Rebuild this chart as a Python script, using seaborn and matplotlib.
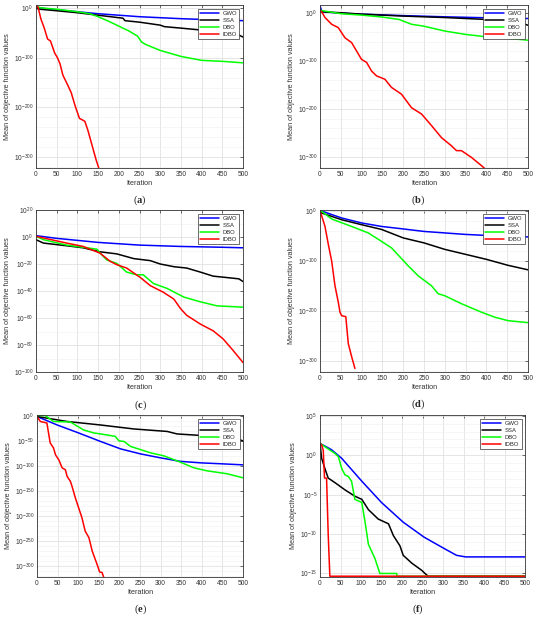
import matplotlib
matplotlib.use("Agg")
import matplotlib.pyplot as plt
from matplotlib.lines import Line2D
from matplotlib.ticker import FixedLocator, NullFormatter, LogFormatterSciNotation
import seaborn as sns
import numpy as np
import pandas as pd


ALGOS = ["GWO", "SSA", "DBO", "IDBO"]
COLORS = {"GWO": "#0000ff", "SSA": "#000000", "DBO": "#00ff00", "IDBO": "#ff0000"}

# (iteration, log10 of mean objective value)
A_GWO = [(0, 5), (5, 1), (25, -1), (50, -3), (100, -7), (150, -11), (200, -14), (250, -17),
         (300, -19), (350, -21), (400, -22.5), (450, -23.5), (500, -25)]
A_SSA = [(0, 0), (10, -2), (50, -5), (100, -9), (150, -14), (200, -19), (210, -20), (215, -25),
         (250, -28), (300, -34), (310, -37), (350, -40), (400, -44), (450, -49), (490, -54), (500, -58)]
A_DBO = [(0, 5), (10, 1), (50, -2), (100, -7), (130, -11), (150, -17), (175, -26), (200, -36),
         (225, -46), (245, -56), (255, -68), (265, -73), (300, -85), (350, -97), (400, -105),
         (450, -107), (500, -110)]
A_IDBO = [(0, 5), (5, 2), (12, -22), (20, -40), (28, -62), (35, -66), (45, -90), (52, -100),
          (58, -112), (65, -135), (75, -152), (85, -170), (95, -198), (105, -222), (112, -225),
          (118, -228), (125, -245), (135, -275), (145, -305), (152, -323)]

B_GWO = [(0, 14), (5, 2), (50, -1), (100, -3), (200, -6), (300, -8.5), (400, -10.5), (500, -12)]
B_SSA = [(0, 2), (50, 0), (100, -3), (200, -7), (300, -10), (400, -14), (450, -18), (480, -20),
         (500, -26)]
B_DBO = [(0, 5), (50, -2), (100, -5), (150, -9), (190, -14), (220, -24), (250, -28), (300, -38),
         (350, -45), (400, -50), (450, -53), (500, -57)]
B_IDBO = [(0, 5), (4, 2), (12, -10), (28, -24), (44, -31), (60, -52), (76, -62), (100, -97),
          (112, -103), (124, -121), (136, -131), (156, -138), (172, -155), (196, -169),
          (220, -197), (244, -210), (268, -234), (292, -259), (316, -276), (328, -286),
          (340, -286), (364, -300), (388, -317), (396, -323)]

C_GWO = [(0, 1), (50, -1), (100, -2.5), (150, -4), (200, -5), (250, -6), (300, -6.5), (350, -7),
         (400, -7.3), (450, -7.6), (500, -8)]
C_SSA = [(0, -2), (18, -4.5), (74, -6.5), (114, -8), (155, -11), (195, -12.5), (236, -16),
         (276, -17.5), (300, -20), (333, -22), (364, -23), (397, -26), (428, -29), (460, -30),
         (490, -31), (500, -33)]
C_DBO = [(0, 0.5), (18, -2), (74, -6), (147, -9), (155, -12), (171, -17), (195, -19.5),
         (219, -26), (243, -28), (259, -28), (284, -34.5), (316, -38), (357, -44.5), (397, -48),
         (437, -51), (500, -52)]
C_IDBO = [(0, 0.5), (74, -4.5), (114, -7), (155, -12), (179, -18), (195, -20.5), (219, -23),
          (252, -30), (276, -36), (308, -41), (333, -46), (349, -53), (364, -58), (397, -64.5),
          (428, -69.5), (452, -75.5), (476, -84), (500, -93)]

D_GWO = [(0, 2), (52, -13), (100, -23), (148, -30), (200, -35), (250, -40), (300, -43),
         (350, -46), (400, -48), (450, -50), (500, -51)]
D_SSA = [(0, -2), (52, -16.5), (100, -26.5), (148, -36), (200, -53), (250, -63), (300, -76),
         (350, -86), (400, -96), (452, -108), (500, -117)]
D_DBO = [(0, 3), (28, -15), (76, -30), (116, -43), (148, -60), (172, -73), (212, -109),
         (236, -129), (268, -149), (284, -165), (300, -169), (340, -185), (388, -202),
         (420, -212), (452, -219), (500, -223)]
D_IDBO = [(0, 0), (4, -8.6), (12, -30), (20, -66), (28, -99), (36, -149), (44, -182), (48, -202),
          (52, -209), (62, -211), (68, -265), (76, -291), (84, -315)]

E_GWO = [(0, 0), (49, -17), (101, -33), (154, -50), (203, -65), (251, -75), (300, -83),
         (348, -90), (397, -93), (450, -95), (500, -97)]
E_SSA = [(0, 0), (73, -10), (154, -17), (235, -25), (316, -30), (340, -35), (397, -38),
         (462, -38), (500, -49)]
E_DBO = [(0, 2), (20, 2), (40, -10), (81, -11), (113, -27), (138, -33), (170, -37), (190, -40),
         (199, -49), (211, -50), (227, -60), (276, -73), (308, -79), (340, -89), (381, -103),
         (413, -109), (462, -115), (500, -123)]
E_IDBO = [(0, 0), (8, -10), (24, -13), (32, -53), (40, -63), (45, -77), (53, -87), (61, -103),
          (69, -107), (73, -120), (81, -130), (85, -140), (93, -163), (101, -183), (109, -203),
          (117, -230), (126, -243), (134, -270), (146, -297), (152, -312), (158, -313),
          (162, -323)]

F_GWO = [(0, 1.5), (28, 0.7), (53, -0.4), (102, -3.3), (150, -6), (203, -8.5), (254, -10.4),
         (305, -11.9), (333, -12.7), (355, -12.9), (500, -12.9)]
F_SSA = [(0, 1.5), (4, -0.4), (12, -1.7), (20, -2.9), (37, -3.5), (61, -4.4), (85, -5.2),
         (102, -5.6), (118, -6.9), (142, -8.1), (167, -8.7), (179, -10.2), (195, -11.5),
         (203, -12.7), (224, -13.7), (248, -14.6), (256, -15), (264, -15.35), (500, -15.35)]
F_DBO = [(0, 1.5), (37, 0.2), (45, -0.2), (53, -1.7), (61, -2.5), (69, -2.7), (77, -3.3),
         (85, -5.6), (102, -6), (110, -8.5), (118, -11.3), (134, -13.1), (146, -15), (187, -15),
         (188, -15.35), (500, -15.35)]
F_IDBO = [(0, 1.5), (4, 1.3), (8, 0.6), (11, -2.9), (16, -2.9), (20, -10), (24, -15.35),
          (500, -15.35)]

PANEL_LABELS = ["a", "b", "c", "d", "e", "f"]
PANEL_SERIES = [
    [A_GWO, A_SSA, A_DBO, A_IDBO],
    [B_GWO, B_SSA, B_DBO, B_IDBO],
    [C_GWO, C_SSA, C_DBO, C_IDBO],
    [D_GWO, D_SSA, D_DBO, D_IDBO],
    [E_GWO, E_SSA, E_DBO, E_IDBO],
    [F_GWO, F_SSA, F_DBO, F_IDBO],
]
# y range and tick exponents for each panel
Y_LIMITS = [(-322, 6.6), (-322, 16), (-100, 20), (-322, 3), (-322, 3), (-15.45, 5.1)]
Y_MAJOR = [
    [0, -100, -200, -300],
    [0, -100, -200, -300],
    [20, 0, -20, -40, -60, -80, -100],
    [0, -100, -200, -300],
    [0, -50, -100, -150, -200, -250, -300],
    [5, 0, -5, -10, -15],
]
Y_MINOR_STEP = [20, 20, 10, 20, 10, 1]
X_TICKS = list(range(0, 501, 50))

# axes boxes in pixels (left, top, right, bottom) and caption centres
FIG_W, FIG_H = 550, 617
BOXES = [(36, 5, 243, 168), (320, 5, 528, 168), (36, 210, 243, 372),
         (320, 210, 528, 372), (37, 415, 243, 577), (320, 415, 525, 577)]
CAPTIONS = [(140, 200), (418, 200), (140, 405), (418, 404), (140, 609), (418, 609)]

FONT_TICKS = 4.8
FONT_AXES = 5.2
FONT_LEGEND = 4.2


def make_frame(series):
    rows = []
    for name, pts in zip(ALGOS, series):
        for it, lg in pts:
            rows.append({"Iteration": it, "Value": 10.0 ** lg, "Algorithm": name})
    return pd.DataFrame(rows)


sns.set_theme(style="white")
plt.rcParams["font.family"] = ["Liberation Sans", "DejaVu Sans"]
plt.rcParams["mathtext.default"] = "regular"
plt.rcParams["mathtext.fontset"] = "custom"
plt.rcParams["mathtext.bf"] = "Liberation Serif:bold"

fig = plt.figure(figsize=(FIG_W / 100, FIG_H / 100), dpi=100)

for i, label in enumerate(PANEL_LABELS):
    l, t, r, b = BOXES[i]
    ax = fig.add_axes([l / FIG_W, 1 - b / FIG_H, (r - l) / FIG_W, (b - t) / FIG_H])
    df = make_frame(PANEL_SERIES[i])
    sns.lineplot(data=df, x="Iteration", y="Value", hue="Algorithm", hue_order=ALGOS,
                 palette=COLORS, estimator=None, sort=False, linewidth=1.1,
                 legend=False, ax=ax)
    ax.set_yscale("log")
    lo, hi = Y_LIMITS[i]
    ax.set_ylim(10.0 ** lo, 10.0 ** hi)
    ax.set_xlim(0, 500)
    ax.set_xticks(X_TICKS)
    ax.yaxis.set_major_locator(FixedLocator([10.0 ** m for m in Y_MAJOR[i]]))
    ax.yaxis.set_major_formatter(LogFormatterSciNotation())
    step = Y_MINOR_STEP[i]
    minors = np.arange(np.ceil(lo / step) * step, hi, step)
    ax.yaxis.set_minor_locator(FixedLocator(10.0 ** minors))
    ax.yaxis.set_minor_formatter(NullFormatter())

    ax.grid(True, which="major", color="#dcdcdc", linewidth=0.5)
    ax.grid(True, which="minor", axis="y", color="#f0f0f0", linewidth=0.4)
    ax.set_axisbelow(True)
    for sp in ax.spines.values():
        sp.set_color("#333333")
        sp.set_linewidth(0.6)
    ax.tick_params(axis="both", which="major", direction="in", length=2, width=0.5,
                   labelsize=FONT_TICKS, pad=2, top=True, right=True, colors="#333333")
    ax.tick_params(axis="y", which="minor", length=0)

    ax.set_xlabel("Iteration", fontsize=FONT_AXES, labelpad=1.5, color="#333333")
    ax.set_ylabel("Mean of objective function values", fontsize=FONT_AXES, labelpad=2,
                  color="#333333")

    handles = [Line2D([], [], color=COLORS[a], linewidth=1.1) for a in ALGOS]
    leg = ax.legend(handles, ALGOS, loc="upper right", fontsize=FONT_LEGEND,
                    handlelength=3.3, handletextpad=0.6, borderpad=0.35,
                    labelspacing=0.35, fancybox=False, framealpha=1,
                    borderaxespad=0.6)
    leg.get_frame().set_edgecolor("#333333")
    leg.get_frame().set_linewidth(0.5)

    cx, cy = CAPTIONS[i]
    fig.text(cx / FIG_W, 1 - cy / FIG_H, r"($\mathbf{%s}$)" % label, ha="center",
             va="center", fontsize=7.5, family="Liberation Serif")

fig.savefig("out.png", dpi=100)
